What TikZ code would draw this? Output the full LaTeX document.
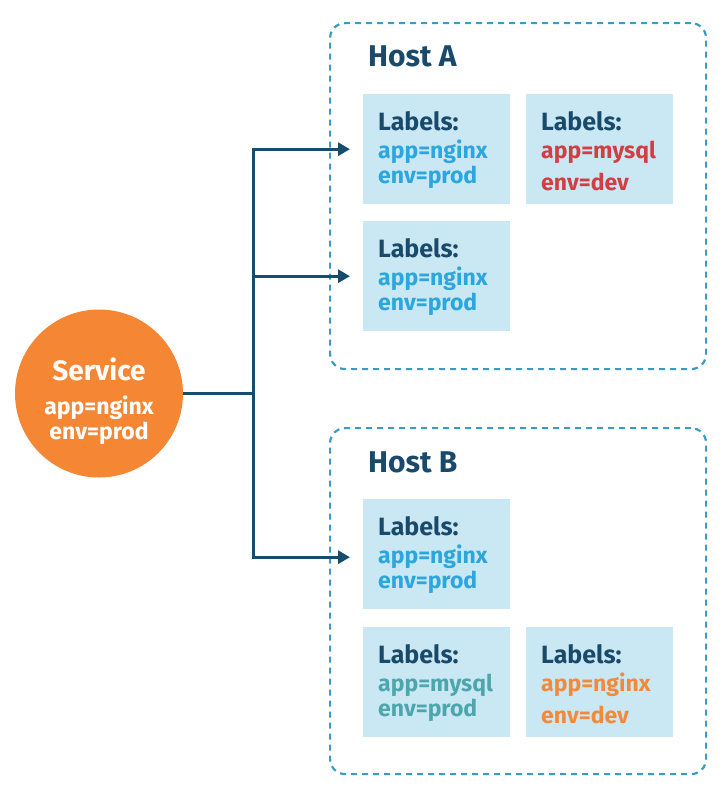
\documentclass[tikz,border=0pt]{standalone}
\usepackage{fontspec}
\setmainfont{Fira Sans}
\usetikzlibrary{arrows.meta,positioning,calc}
\definecolor{navy}{HTML}{1A4A6B}
\definecolor{podfill}{HTML}{C9E8F4}
\definecolor{nginxblue}{HTML}{2CA6DC}
\definecolor{mysqlred}{HTML}{D13F45}
\definecolor{teal}{HTML}{4EA6AD}
\definecolor{devorange}{HTML}{F28A3E}
\definecolor{svcorange}{HTML}{F58634}
\definecolor{hostborder}{HTML}{3A9CC4}
\definecolor{conncol}{HTML}{164D6E}
\begin{document}
\begin{tikzpicture}[x=1pt,y=-1pt,
  host/.style={draw=hostborder,line width=2.2pt,dash pattern=on 6pt off 5pt,rounded corners=15pt,minimum width=376pt,minimum height=346pt,anchor=north west,inner sep=0pt},
  hostlabel/.style={anchor=base west,inner sep=0pt,font=\fontsize{30}{30}\selectfont\bfseries,text=navy},
  pod/.style={fill=podfill,minimum width=147pt,minimum height=110pt,anchor=north west,inner sep=0pt},
  lbl/.style={anchor=base west,inner sep=0pt,font=\fontsize{25}{25}\selectfont\bfseries,text=navy},
  kv/.style={anchor=base west,inner sep=0pt,font=\fontsize{23}{23}\selectfont\bfseries},
  conn/.style={draw=conncol,line width=3pt},
  arr/.style={conn,-{Triangle[length=12pt,width=13pt]},shorten >=13pt},
  svctext/.style={inner sep=0pt,anchor=base,text=white,font=\bfseries}
]
\useasboundingbox (0,0) rectangle (727,796);

% hosts
\node[host] (hostA) at (329,22) {};
\node[host] (hostB) at (329,427) {};
\node[hostlabel] (hostAl) at (368,66) {Host A};
\node[hostlabel] (hostBl) at (368,472) {Host B};

% pods
\node[pod] (p1) at (363,94) {};
\node[pod] (p2) at (526,94) {};
\node[pod] (p3) at (363,221) {};
\node[pod] (p4) at (363,499) {};
\node[pod] (p5) at (363,627) {};
\node[pod] (p6) at (526,627) {};

\foreach \p/\ca/\cb/\a/\b/\d in {p1/nginxblue/nginxblue/nginx/prod/89,p2/mysqlred/mysqlred/mysql/dev/96,p3/nginxblue/nginxblue/nginx/prod/89,p4/nginxblue/nginxblue/nginx/prod/89,p5/teal/teal/mysql/prod/89,p6/devorange/devorange/nginx/dev/96}{
  \node[lbl] (\p l) at ($(\p.north west)+(15,36)$) {Labels:};
  \node[kv,text=\ca] (\p a) at ($(\p.north west)+(15,64)$) {app=\a};
  \node[kv,text=\cb] (\p e) at ($(\p.north west)+(15,\d)$) {env=\b};
}

% service
\node[circle,fill=svcorange,minimum size=168pt,inner sep=0pt] (svc) at (99,393.5) {};
\node[svctext,font=\fontsize{28}{28}\selectfont\bfseries] (svcn) at (99,380) {Service};
\node[svctext,font=\fontsize{23}{23}\selectfont\bfseries] (svca) at (99,414) {app=nginx};
\node[svctext,font=\fontsize{23}{23}\selectfont\bfseries] (svce) at (99,439) {env=prod};

% connectors
\coordinate (junc) at (253,393.5);
\draw[conn] (svc.east) -- (junc);
\draw[arr] (junc) |- (p1.west);
\draw[arr] (junc) |- (p3.west);
\draw[arr] (junc) |- ($(p4.west)+(0,3)$);
\end{tikzpicture}
\end{document}
